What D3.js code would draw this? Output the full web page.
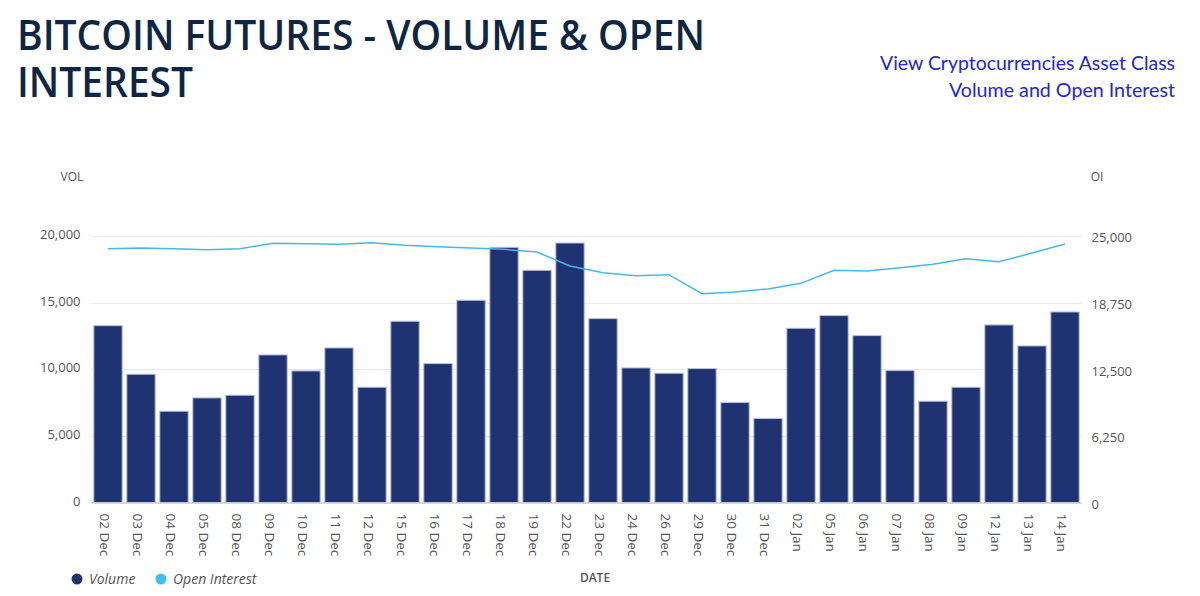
<!DOCTYPE html>
<html>
<head>
<meta charset="utf-8">
<script src="https://cdn.jsdelivr.net/npm/d3@7/dist/d3.min.js"></script>
<style>
  html, body { margin: 0; padding: 0; background: #fff; }
  svg { display: block; }
</style>
</head>
<body>
<svg id="chart" width="1200" height="596"></svg>
<script>
const dates = ["02 Dec","03 Dec","04 Dec","05 Dec","08 Dec","09 Dec","10 Dec","11 Dec","12 Dec","15 Dec","16 Dec","17 Dec","18 Dec","19 Dec","22 Dec","23 Dec","24 Dec","26 Dec","29 Dec","30 Dec","31 Dec","02 Jan","05 Jan","06 Jan","07 Jan","08 Jan","09 Jan","12 Jan","13 Jan","14 Jan"];
const volume = [13270,9625,6850,7850,8050,11075,9875,11600,8650,13600,10425,15175,19150,17425,19475,13800,10100,9700,10050,7500,6300,13075,14025,12525,9900,7600,8650,13325,11750,14300];
const openInterest = [23810,23870,23810,23720,23810,24310,24280,24220,24375,24125,24000,23870,23750,23500,22190,21560,21280,21370,19590,19750,20030,20560,21780,21720,22030,22340,22870,22590,23400,24250];
const volTicks = [0,5000,10000,15000,20000];
const oiTicks = [0,6250,12500,18750,25000];

const svg = d3.select("#chart");
const plot = {left: 91.5, right: 1081.5, top: 236, bottom: 502.5};
const font = "'Open Sans', 'Noto Sans', sans-serif";

const x = d3.scaleBand().domain(dates).range([plot.left, plot.right]).paddingInner(0.14).paddingOuter(0.07);
const yL = d3.scaleLinear().domain([0, 20000]).range([plot.bottom, plot.top]);
const yR = d3.scaleLinear().domain([0, 25000]).range([plot.bottom, plot.top]);

// Title
const title = svg.append("g").attr("fill", "#0f2544").attr("font-family", "'Open Sans', sans-serif").attr("font-weight", 600).attr("font-size", 41);
title.append("text").attr("x", 17).attr("y", 50).attr("textLength", 688).attr("lengthAdjust", "spacingAndGlyphs").text("BITCOIN FUTURES - VOLUME & OPEN");
title.append("text").attr("x", 17).attr("y", 97).attr("textLength", 176).attr("lengthAdjust", "spacingAndGlyphs").text("INTEREST");

// Link text
const link = svg.append("g").attr("fill", "#2424dc").attr("font-family", "Lato, 'Open Sans', sans-serif").attr("font-size", 18.5).attr("text-anchor", "end");
link.append("text").attr("x", 1175).attr("y", 70).attr("textLength", 295).attr("lengthAdjust", "spacingAndGlyphs").text("View Cryptocurrencies Asset Class");
link.append("text").attr("x", 1175).attr("y", 97).attr("textLength", 226).attr("lengthAdjust", "spacingAndGlyphs").text("Volume and Open Interest");

// Gridlines
svg.append("g").selectAll("line").data(volTicks.filter(d => d > 0)).join("line")
  .attr("x1", plot.left).attr("x2", plot.right)
  .attr("y1", d => Math.round(yL(d)) + 0.5).attr("y2", d => Math.round(yL(d)) + 0.5)
  .attr("stroke", "#e8e8ee").attr("stroke-width", 1);

// Left axis
const leftAxis = svg.append("g").attr("transform", `translate(${plot.left},0)`)
  .call(d3.axisLeft(yL).tickValues(volTicks).tickFormat(d3.format(",")).tickSize(0).tickPadding(11));
leftAxis.select(".domain").remove();
leftAxis.selectAll("text").attr("font-family", font).attr("font-size", 13).attr("fill", "#555").attr("dy", "0.2em");

// Right axis
const rightAxis = svg.append("g").attr("transform", `translate(${plot.right},0)`)
  .call(d3.axisRight(yR).tickValues(oiTicks).tickFormat(d3.format(",")).tickSize(0).tickPadding(10));
rightAxis.select(".domain").remove();
rightAxis.selectAll("text").attr("font-family", font).attr("font-size", 13).attr("fill", "#555").attr("dy", "0.45em");

// Axis titles
svg.append("text").attr("x", 72).attr("y", 181).attr("text-anchor", "middle").attr("font-family", font).attr("font-size", 12).attr("fill", "#555").text("VOL");
svg.append("text").attr("x", 1097).attr("y", 181).attr("text-anchor", "middle").attr("font-family", font).attr("font-size", 12).attr("fill", "#555").text("OI");

// Bars
svg.append("g").selectAll("rect").data(volume).join("rect")
  .attr("x", (d, i) => x(dates[i]))
  .attr("y", d => yL(d))
  .attr("width", x.bandwidth())
  .attr("height", d => plot.bottom - yL(d))
  .attr("fill", "#1f3271")
  .attr("stroke", "#b9c0d8").attr("stroke-width", 1);

// Baseline
svg.append("line").attr("x1", plot.left).attr("x2", plot.right).attr("y1", plot.bottom + 0.5).attr("y2", plot.bottom + 0.5)
  .attr("stroke", "#c8c8d0").attr("stroke-width", 1.5);

// OI line
const line = d3.line().x((d, i) => x(dates[i]) + x.bandwidth() / 2).y(d => yR(d));
svg.append("path").datum(openInterest).attr("d", line).attr("fill", "none").attr("stroke", "#45b8ea").attr("stroke-width", 1.5);

// X axis labels
const xAxis = svg.append("g").attr("transform", `translate(0,${plot.bottom})`)
  .call(d3.axisBottom(x).tickSize(0).tickPadding(0));
xAxis.select(".domain").remove();
xAxis.selectAll("text")
  .attr("font-family", font).attr("font-size", 13.5).attr("fill", "#555")
  .attr("text-anchor", "start")
  .attr("transform", "translate(-3,11) rotate(90)")
  .attr("x", 0).attr("y", 0).attr("dy", "0.35em");

// Axis title DATE
svg.append("text").attr("x", 595).attr("y", 582).attr("text-anchor", "middle").attr("font-family", font).attr("font-size", 12).attr("font-weight", 600).attr("fill", "#555").text("DATE");

// Legend
const legend = [{name: "Volume", color: "#1f3271", x: 77}, {name: "Open Interest", color: "#3ec0f4", x: 161}];
const lg = svg.append("g").selectAll("g").data(legend).join("g").attr("transform", d => `translate(${d.x},579)`);
lg.append("circle").attr("r", 5.5).attr("fill", d => d.color);
lg.append("text").attr("x", 12).attr("dy", "0.35em").attr("font-family", font).attr("font-style", "italic").attr("font-size", 14).attr("fill", "#555").text(d => d.name);
</script>
</body>
</html>
